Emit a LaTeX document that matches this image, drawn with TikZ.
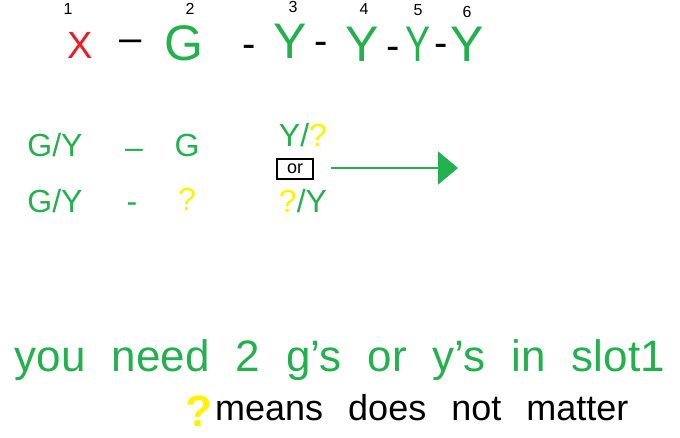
\documentclass[tikz,border=0pt]{standalone}
\usepackage{fontspec}
\setmainfont{Liberation Sans}
\usetikzlibrary{arrows.meta}
\definecolor{pgreen}{RGB}{34,177,76}
\definecolor{pyellow}{RGB}{255,242,0}
\definecolor{pred}{RGB}{237,28,36}
\tikzset{
  num/.style={font=\fontsize{16}{16}\selectfont, inner sep=0pt},
  big/.style={font=\fontsize{50}{50}\selectfont, inner sep=0pt, text=pgreen},
  dsh/.style={font=\fontsize{40}{40}\selectfont, inner sep=0pt},
  mid/.style={font=\fontsize{32}{32}\selectfont, inner sep=0pt, text=pgreen},
  orbox/.style={draw=black, line width=1.5pt, font=\fontsize{18}{18}\selectfont, minimum width=36pt, minimum height=20pt, inner sep=0pt},
  garrow/.style={draw=pgreen, line width=2pt, -{Triangle[length=20pt,width=33pt]}},
  q/.style={text=pyellow}
}
\begin{document}
\begin{tikzpicture}[x=1pt,y=-1pt]
\useasboundingbox (0,0) rectangle (680,438);
% top row numbers
\node[num] (n1) at (68,9) {1};
\node[num] (n2) at (190,9) {2};
\node[num] (n3) at (293,7) {3};
\node[num] (n4) at (364,9) {4};
\node[num] (n5) at (418,10) {5};
\node[num] (n6) at (467,12) {6};
% top row letters
\node[big, text=pred, font=\fontsize{38}{38}\selectfont] (x1) at (80,45) {X};
\node[dsh] (d1) at (131,46) {--};
\node[big] (g2) at (184,43) {G};
\node[dsh] (d2) at (249,51) {-};
\node[big] (y3) at (290,41) {Y};
\node[dsh] (d3) at (321,48) {-};
\node[big] (y4) at (362,44) {Y};
\node[dsh] (d4) at (393,53) {-};
\node[big] (y5) at (418,44) {\scalebox{0.75}[1]{Y}};
\node[dsh] (d5) at (441,50) {-};
\node[big] (y6) at (467,44) {Y};
% middle
\node[mid] (m1) at (55,145) {G/Y};
\node[mid] (m2) at (134,154) {--};
\node[mid] (m3) at (187,145) {G};
\node[mid] (m4) at (303,135) {Y/\textcolor{pyellow}{?}};
\node[orbox] (or) at (295,169) {or};
\node[mid] (m5) at (55,201) {G/Y};
\node[mid] (m6) at (132,208) {-};
\node[mid, q] (m7) at (187,199) {?};
\node[mid] (m8) at (303,201) {\textcolor{pyellow}{?}/Y};
\coordinate (a1) at (331,168);
\coordinate (a2) at (458,168);
\draw[garrow] (a1) -- (a2);
% bottom
\node[font=\fontsize{44}{44}\selectfont, text=pgreen, inner sep=0pt] (b1) at (340,360) {\spaceskip=26pt you need 2 g's or y's in slot1};
\node[font=\fontsize{44}{44}\selectfont\bfseries, text=pyellow, inner sep=0pt] (b0) at (199,411) {?};
\node[font=\fontsize{36}{36}\selectfont, inner sep=0pt, anchor=west] (b2) at (215,408) {\spaceskip=25pt means does not matter};
\end{tikzpicture}
\end{document}
